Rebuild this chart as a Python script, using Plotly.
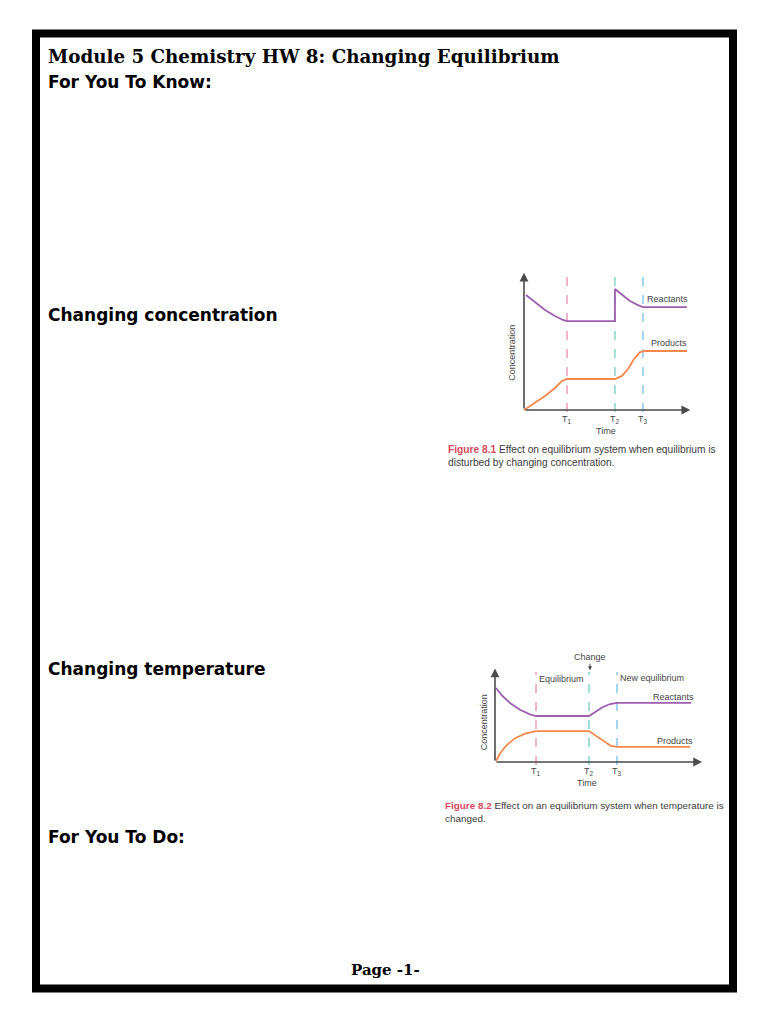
import plotly.graph_objects as go

W, H = 768, 1024

# ---------------- data ----------------
# Figure 8.1 (changing concentration)
c_T = [26.4, 55.8, 73.0]
c_T_labels = ["T<sub>1</sub>", "T<sub>2</sub>", "T<sub>3</sub>"]
c_react_x = [1.2, 6.7, 12.9, 19.0, 23.9, 26.4, 55.8, 55.8, 60.1, 65.0, 69.9, 73.0, 100]
c_react_y = [87.1, 81.8, 75.8, 71.2, 68.2, 67.4, 67.4, 91.7, 87.1, 82.6, 79.5, 78.0, 78.0]
c_prod_x = [0, 6.7, 12.9, 19.0, 23.3, 26.4, 55.8, 60.1, 63.8, 67.5, 71.2, 74.2, 100]
c_prod_y = [0, 5.3, 10.6, 16.7, 22.0, 23.5, 23.5, 25.8, 31.0, 38.6, 43.9, 44.7, 44.7]

# Figure 8.2 (changing temperature)
t_T = [20.2, 46.3, 60.1]
t_T_labels = ["T<sub>1</sub>", "T<sub>2</sub>", "T<sub>3</sub>"]
t_react_x = [0.5, 3.4, 7.4, 12.3, 17.2, 20.2, 46.3, 49.3, 53.2, 56.7, 60.1, 96.6]
t_react_y = [82.2, 74.0, 65.5, 58.0, 53.0, 51.1, 51.1, 55.6, 61.1, 64.4, 65.6, 65.6]
t_prod_x = [0.5, 2.5, 5.4, 9.9, 14.8, 20.2, 46.3, 49.8, 53.7, 57.1, 60.1, 96.1]
t_prod_y = [1.1, 9.5, 18.0, 26.5, 31.5, 34.4, 34.4, 28.9, 22.2, 17.8, 16.7, 16.7]

# ---------------- styles ----------------
PURPLE = "#9c5fae"
ORANGE = "#f3884a"
DASH_COLORS = ["#e47aa2", "#5cc2b4", "#5ab5e2"]
AXIS_C = "#4a4a4a"
LABEL_FONT = dict(family="Liberation Sans, Arial, sans-serif", size=9, color="#444")
CAP_FONT = dict(family="Liberation Sans, Arial, sans-serif", size=10.2, color="#3a3a3a")
CAP_FONT2 = dict(family="Liberation Sans, Arial, sans-serif", size=9.9, color="#3a3a3a")
HEAD_FONT = dict(family="DejaVu Sans", size=17, color="black")
FIG_RED = "#d8475c"

fig = go.Figure()


def fx(px):
    return px / W


def fy(py):
    return 1 - py / H


def setup_axes(n, ox, oy, tx, ty):
    # data 0..100 maps from origin px (ox,oy) to tip px (tx,ty)
    sx = (tx - ox) / 100.0
    sy = (oy - ty) / 100.0
    xlo, xhi = -15, 110
    ylo, yhi = -35, 115
    xd = [fx(ox + xlo * sx), fx(ox + xhi * sx)]
    yd = [fy(oy - ylo * sy), fy(oy - yhi * sy)]
    suffix = "" if n == 1 else str(n)
    fig.layout["xaxis" + suffix] = dict(domain=xd, range=[xlo, xhi], visible=False,
                                        anchor="y" + suffix, fixedrange=True)
    fig.layout["yaxis" + suffix] = dict(domain=yd, range=[ylo, yhi], visible=False,
                                        anchor="x" + suffix, fixedrange=True)
    return "x" + suffix, "y" + suffix


ax1 = setup_axes(1, 524, 410, 687, 278)
ax2 = setup_axes(2, 495, 762, 698, 672)

annotations = []
shapes = []


def draw_chart(axes, T, T_labels, rx, ry, px_, py_, dash_lo, dash_hi, t_label_y, time_y,
               conc_x, react_lab, prod_lab):
    xa, ya = axes
    for t, col in zip(T, DASH_COLORS):
        fig.add_trace(go.Scatter(x=[t, t], y=[dash_lo, dash_hi], mode="lines",
                                 line=dict(color=col, width=1.1, dash="dash"),
                                 xaxis=xa, yaxis=ya, showlegend=False, hoverinfo="skip"))
    fig.add_trace(go.Scatter(x=rx, y=ry, mode="lines", line=dict(color=PURPLE, width=1.8),
                             xaxis=xa, yaxis=ya, showlegend=False))
    fig.add_trace(go.Scatter(x=px_, y=py_, mode="lines", line=dict(color=ORANGE, width=1.8),
                             xaxis=xa, yaxis=ya, showlegend=False))
    # axis arrows
    annotations.append(dict(x=102, y=0, ax=0, ay=0, xref=xa, yref=ya, axref=xa, ayref=ya,
                            showarrow=True, arrowhead=2, arrowsize=1.1, arrowwidth=1.6,
                            arrowcolor=AXIS_C, text=""))
    annotations.append(dict(x=0, y=104, ax=0, ay=0, xref=xa, yref=ya, axref=xa, ayref=ya,
                            showarrow=True, arrowhead=2, arrowsize=1.1, arrowwidth=1.6,
                            arrowcolor=AXIS_C, text=""))
    for t, lab in zip(T, T_labels):
        annotations.append(dict(x=t, y=t_label_y, xref=xa, yref=ya, text=lab, showarrow=False,
                                font=LABEL_FONT, xanchor="center", yanchor="middle"))
    annotations.append(dict(x=time_y[0], y=time_y[1], xref=xa, yref=ya, text="Time",
                            showarrow=False, font=LABEL_FONT))
    annotations.append(dict(x=conc_x[0], y=conc_x[1], xref=xa, yref=ya, text="Concentration",
                            showarrow=False, font=LABEL_FONT, textangle=-90))
    annotations.append(dict(x=react_lab[0], y=react_lab[1], xref=xa, yref=ya, text="Reactants",
                            showarrow=False, font=LABEL_FONT))
    annotations.append(dict(x=prod_lab[0], y=prod_lab[1], xref=xa, yref=ya, text="Products",
                            showarrow=False, font=LABEL_FONT))


# chart 1: px->data x=(px-524)/1.63, y=(410-py)/1.32
draw_chart(ax1, c_T, c_T_labels, c_react_x, c_react_y, c_prod_x, c_prod_y,
           -1.5, 100.8, -7.5, (50.3, -16),
           (-7.0, 43), (88, 84), (89, 51))

# chart 2: px->data x=(px-495)/2.03, y=(762-py)/0.9
draw_chart(ax2, t_T, t_T_labels, t_react_x, t_react_y, t_prod_x, t_prod_y,
           -3.3, 100, -11, (45.3, -23),
           (-5, 44), (87.7, 72), (88.7, 23))

xa2, ya2 = ax2
annotations.append(dict(x=33, y=92, xref=xa2, yref=ya2, text="Equilibrium", showarrow=False,
                        font=LABEL_FONT))
annotations.append(dict(x=77.3, y=93, xref=xa2, yref=ya2, text="New equilibrium",
                        showarrow=False, font=LABEL_FONT))
annotations.append(dict(x=46.8, y=102, xref=xa2, yref=ya2, text="Change", showarrow=True,
                        arrowhead=2, arrowsize=0.8, arrowwidth=1, arrowcolor=AXIS_C,
                        ax=0, ay=-13, font=LABEL_FONT))

# captions
annotations.append(dict(x=fx(446), y=fy(456), xref="paper", yref="paper", xanchor="left",
                        yanchor="middle", align="left", showarrow=False, font=CAP_FONT,
                        text=f"<span style='color:{FIG_RED}'><b>Figure 8.1</b></span> Effect on equilibrium system when equilibrium is<br>disturbed by changing concentration."))
annotations.append(dict(x=fx(443), y=fy(812), xref="paper", yref="paper", xanchor="left",
                        yanchor="middle", align="left", showarrow=False, font=CAP_FONT2,
                        text=f"<span style='color:{FIG_RED}'><b>Figure 8.2</b></span> Effect on an equilibrium system when temperature is<br>changed."))

# headings
annotations.append(dict(x=fx(46), y=fy(56), xref="paper", yref="paper", xanchor="left",
                        yanchor="middle", showarrow=False,
                        text="<b>Module 5 Chemistry HW 8: Changing Equilibrium</b>",
                        font=dict(family="DejaVu Serif", size=18.3, color="black")))
for txt, py in [("For You To Know:", 82), ("Changing concentration", 315),
                ("Changing temperature", 669), ("For You To Do:", 837)]:
    annotations.append(dict(x=fx(46), y=fy(py), xref="paper", yref="paper", xanchor="left",
                            yanchor="middle", showarrow=False, text=f"<b>{txt}</b>",
                            font=HEAD_FONT))
annotations.append(dict(x=fx(385), y=fy(970), xref="paper", yref="paper", xanchor="center",
                        yanchor="middle", showarrow=False, text="<b>Page -1-</b>",
                        font=dict(family="DejaVu Serif", size=15, color="black")))

# page frame
shapes.append(dict(type="rect", xref="paper", yref="paper", x0=fx(36), x1=fx(733),
                   y0=fy(33.5), y1=fy(988.5), line=dict(color="black", width=8),
                   fillcolor="rgba(0,0,0,0)", layer="above"))

fig.update_layout(width=W, height=H, margin=dict(l=0, r=0, t=0, b=0),
                  paper_bgcolor="white", plot_bgcolor="rgba(0,0,0,0)",
                  annotations=annotations, shapes=shapes, showlegend=False)

fig.write_html("out.html", config={"displayModeBar": False})
